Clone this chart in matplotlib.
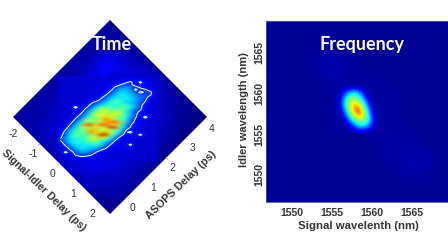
import numpy as np
import matplotlib
matplotlib.use("Agg")
import matplotlib.pyplot as plt
from matplotlib.transforms import Affine2D

plt.rcParams['font.family'] = ['Liberation Sans', 'DejaVu Sans']

asops_ticks = [0, 1, 2, 3, 4]
delay_ticks = [-2, -1, 0, 1, 2]
wave_ticks = [1550, 1555, 1560, 1565]
time_title = "Time"
freq_title = "Frequency"

# faint field of the time map, percent of the colour range, in delay axes
time_field = [
[6,7,6,7,6,7,7,6,7,8,7,6,7,8,7,6,7,7,6,7,8,7,7,6,7,7,6,7,8,7,7,6,7,6,7,6],
[7,6,7,8,7,6,7,9,6,7,7,9,7,6,7,9,7,6,7,7,6,9,7,6,9,7,7,9,7,7,6,7,6,7,7,6],
[6,7,9,7,6,9,7,6,7,9,7,6,9,7,7,6,9,7,7,9,7,6,7,9,7,6,9,7,7,9,7,6,8,7,6,7],
[7,9,6,7,9,7,6,9,7,6,9,7,7,9,6,7,9,8,7,6,9,7,9,7,7,9,9,8,9,7,8,7,7,6,7,6],
[6,7,9,6,7,9,7,7,9,7,7,10,8,7,10,8,7,9,10,8,7,10,8,10,8,10,11,9,11,9,8,7,8,7,6,7],
[7,9,7,9,8,7,10,8,7,10,8,8,10,11,8,10,11,8,10,11,9,8,11,9,11,12,10,13,11,10,9,8,7,8,7,6],
[8,7,9,7,10,8,8,10,11,8,10,11,9,8,11,12,9,11,12,9,11,12,10,13,11,13,14,12,14,11,10,9,8,7,7,6],
[7,9,7,10,8,10,11,8,10,11,9,12,10,12,10,9,12,11,10,13,11,13,14,12,14,15,16,14,14,12,11,9,8,8,7,7],
[8,7,10,8,10,11,9,11,12,9,12,10,12,13,11,12,11,12,13,12,13,14,13,15,14,15,16,15,14,13,12,10,9,8,7,7],
[7,10,8,10,11,9,12,10,12,11,11,12,11,12,11,12,11,12,11,12,12,13,12,13,13,14,14,14,13,13,11,11,9,8,8,7],
[8,8,10,11,9,12,10,12,11,12,11,12,11,11,11,11,11,11,11,11,11,11,11,11,11,11,12,12,12,12,12,10,10,8,8,7],
[7,9,8,10,9,11,10,12,11,11,11,11,11,11,11,11,11,11,11,11,11,11,11,11,11,11,11,11,12,12,11,10,9,8,8,7],
[7,8,10,9,11,10,12,11,11,11,11,11,11,11,11,11,11,11,11,11,11,11,11,11,11,11,11,11,11,12,12,10,9,8,8,7],
[8,9,9,11,10,12,11,11,11,11,11,11,11,11,11,11,11,11,11,11,11,11,11,11,11,11,11,11,11,11,12,11,9,9,8,7],
[8,9,10,11,11,11,11,11,11,11,11,11,11,11,11,11,11,11,11,11,11,11,11,11,11,11,11,11,11,11,11,11,10,8,8,7],
[8,8,10,11,11,11,11,11,11,11,11,11,11,11,11,11,11,11,11,11,11,11,11,11,11,11,11,11,11,11,11,11,10,9,8,7],
[9,9,11,11,11,11,11,11,11,11,11,11,11,11,11,11,11,11,11,11,11,11,11,11,11,11,11,11,11,11,11,11,10,9,8,8],
[9,10,11,11,11,11,11,11,11,11,11,11,11,11,11,11,11,11,11,11,11,11,11,11,11,11,11,11,11,11,11,11,10,9,8,8],
[9,10,11,11,11,11,11,11,11,11,11,11,11,11,11,11,11,11,11,11,11,11,11,11,11,11,11,11,11,11,11,11,11,9,9,8],
[10,9,12,11,11,11,11,11,11,11,11,11,11,11,11,11,11,11,11,11,11,11,11,11,11,11,11,11,11,11,11,11,11,9,9,8],
[9,10,11,12,11,11,11,11,11,11,11,11,11,11,11,11,11,11,11,11,11,11,11,11,11,11,11,11,11,11,11,11,10,9,8,8],
[9,10,11,13,11,12,11,11,11,11,11,11,11,11,11,11,11,11,11,11,11,11,11,11,11,11,11,11,11,11,11,11,10,9,8,8],
[9,9,10,12,13,12,11,12,11,11,11,11,11,11,11,11,11,11,11,11,11,11,11,11,11,11,11,11,11,11,12,10,9,9,8,7],
[8,9,11,11,12,13,12,13,12,11,11,11,11,11,11,11,11,11,11,11,11,11,11,11,11,11,11,11,12,12,11,10,9,8,8,7],
[8,8,9,12,11,12,13,12,13,12,13,12,11,11,11,11,11,11,11,11,11,11,11,11,11,11,12,13,12,11,10,9,9,8,7,7],
[8,9,11,9,12,10,13,12,13,13,14,14,13,12,11,11,11,11,11,11,11,11,11,11,12,13,12,11,11,10,9,9,8,7,7,6],
[8,10,8,11,9,12,10,13,11,13,13,12,13,14,14,13,13,12,12,13,14,13,12,13,12,11,11,10,10,9,9,8,8,7,7,6],
[7,8,10,8,11,9,12,10,12,11,13,11,12,14,12,13,14,12,13,12,12,11,12,11,10,11,10,9,9,9,8,8,7,7,6,6],
[8,7,9,10,8,11,9,11,10,12,10,13,11,11,13,11,12,12,11,10,12,10,10,12,10,9,10,9,8,8,8,7,7,6,7,6],
[7,9,7,9,10,8,10,9,11,9,12,10,10,12,10,12,10,12,10,10,9,11,9,9,10,9,8,8,9,7,7,7,6,7,6,6],
[7,7,9,7,9,10,8,10,8,11,9,11,9,11,9,11,9,9,11,9,9,8,10,8,8,9,8,7,7,7,6,7,6,6,6,6],
[6,7,7,9,7,9,9,8,10,8,10,8,10,9,8,10,9,8,8,10,8,8,9,8,7,9,7,7,8,6,7,6,6,6,6,5],
[6,6,7,7,9,7,9,7,9,9,8,9,8,7,9,8,7,9,8,7,9,7,7,8,7,7,8,6,6,7,6,6,6,5,6,5],
[6,6,6,7,8,7,8,7,7,9,7,8,7,8,7,8,7,7,8,7,7,8,7,6,7,6,6,7,6,6,5,6,5,5,5,5],
[5,6,6,7,6,7,6,8,7,7,6,8,7,6,8,6,6,8,6,6,7,6,6,7,6,6,5,6,5,5,5,5,5,5,5,5],
[5,5,6,5,6,6,7,6,6,7,6,6,7,6,6,7,6,6,7,6,5,6,5,6,5,5,5,5,5,5,5,5,5,5,4,4],
]
# bright part of the time map, percent of the colour range, rows of the picture
time_core = [
[10,10,10,10,11,11,11,11,11,11,11,11,11,11,11,11,11,11,11,10],
[10,10,11,11,11,11,11,11,11,12,12,12,13,14,15,14,13,13,12,11],
[10,11,11,11,11,11,11,11,12,12,12,12,14,18,22,15,22,14,12,11],
[10,11,11,11,11,11,11,12,12,12,13,14,20,24,22,16,17,14,12,11],
[10,11,11,11,11,11,11,12,12,13,14,22,28,30,27,23,18,15,13,11],
[10,11,11,11,11,11,11,12,12,14,18,24,33,34,30,18,24,21,15,12],
[10,11,11,11,11,11,12,12,13,14,22,30,36,36,32,26,17,22,22,12],
[10,11,11,11,11,11,12,12,14,19,26,34,40,38,34,30,26,24,21,12],
[10,11,11,11,11,12,12,13,17,24,33,38,36,40,36,31,27,23,15,11],
[10,11,11,11,11,12,13,14,21,28,36,44,44,38,38,32,27,21,13,11],
[10,11,11,11,12,13,17,22,26,36,45,46,44,36,34,30,25,19,12,11],
[10,11,11,11,12,14,21,26,34,38,40,40,42,44,38,32,23,15,12,11],
[10,11,11,24,13,18,24,36,48,52,48,42,50,50,42,33,22,13,12,11],
[10,11,11,13,14,22,32,44,58,60,50,50,48,46,36,26,21,13,12,11],
[10,11,11,13,17,26,38,52,56,60,52,62,58,44,32,24,16,13,11,11],
[10,11,12,14,21,30,44,62,64,62,56,64,56,42,36,22,14,13,11,11],
[10,11,12,18,25,36,46,52,54,70,68,52,50,46,32,21,14,24,11,11],
[10,11,13,22,30,55,60,48,62,80,70,55,48,40,26,19,13,12,11,11],
[10,12,17,27,38,50,54,48,58,70,82,85,72,42,26,17,13,12,11,11],
[10,13,21,32,46,82,88,68,82,85,62,66,48,32,21,14,13,12,11,11],
[11,16,25,36,50,60,54,58,62,58,92,88,50,36,20,14,13,12,11,11],
[12,20,32,42,48,50,72,74,52,64,62,52,44,22,14,13,12,11,11,11],
[13,24,36,44,46,54,78,70,66,72,56,48,38,18,23,13,12,11,11,11],
[16,26,38,48,50,44,48,52,90,96,58,44,26,15,13,14,23,11,11,11],
[18,28,40,44,40,46,56,58,70,64,44,30,17,14,13,12,11,11,11,11],
[21,30,36,38,42,44,60,62,50,44,36,21,14,13,12,12,11,11,11,11],
[17,26,38,42,40,40,46,44,42,34,27,15,14,13,12,11,11,11,11,11],
[13,22,32,38,36,40,38,48,38,28,20,14,13,13,23,11,11,11,11,11],
[12,17,26,34,40,36,36,34,30,24,14,13,13,12,12,11,11,11,11,10],
[11,13,21,30,34,36,32,30,22,16,13,13,12,12,11,11,11,11,11,10],
[11,23,15,24,30,30,26,21,14,13,13,12,12,11,11,11,11,11,10,10],
[11,12,13,21,26,25,22,16,13,13,12,12,11,11,11,11,11,10,10,10],
[11,11,12,14,18,17,15,13,13,12,12,11,11,11,11,11,10,10,10,10],
[10,11,11,12,12,12,12,12,12,11,11,11,11,11,11,10,10,10,10,10],
]
time_level = 20

# frequency map: faint field over the whole window, then the bright peak
freq_field = [
[2,2,2,2,2,2,2,2,2,2,2,2,2,2,2,2],
[2,2,2,2,2,2,2,2,2,2,2,2,2,2,2,2],
[2,2,2,2,3,3,3,2,2,2,2,2,2,2,2,2],
[2,2,2,2,3,5,4,3,2,2,2,2,2,2,2,2],
[2,2,2,2,3,4,4,3,3,2,2,2,2,2,2,2],
[2,2,2,2,2,3,3,3,3,3,3,2,2,2,2,2],
[2,2,2,2,2,2,3,3,3,3,3,3,2,2,2,2],
[2,2,2,2,2,2,2,3,3,3,3,3,2,2,2,2],
[2,2,2,2,2,2,2,3,3,3,3,3,2,2,2,2],
[2,2,2,2,2,2,2,2,3,3,3,3,3,2,2,2],
[2,2,2,2,2,2,2,2,2,3,3,4,3,3,2,2],
[2,2,2,2,2,2,2,2,2,2,3,3,4,4,3,2],
[2,2,2,2,2,2,2,2,2,2,3,3,4,5,3,2],
[2,2,2,2,2,2,2,2,2,2,2,3,3,3,3,2],
[2,2,2,2,2,2,2,2,2,2,2,2,2,3,2,2],
[2,2,2,2,2,2,2,2,2,2,2,2,2,2,2,2],
]
freq_peak = [
[3,3,3,3,3,3,3,3,3,3,3,3,3,3],
[3,3,3,6,11,16,19,16,10,5,3,3,3,3],
[3,3,6,14,25,33,36,32,22,11,4,3,3,3],
[3,3,9,22,36,44,46,42,33,19,8,3,3,3],
[3,4,12,30,42,52,58,52,42,30,13,5,3,3],
[3,4,12,32,44,58,67,64,52,38,20,8,3,3],
[3,3,10,28,42,60,74,78,63,46,28,11,4,3],
[3,3,7,22,38,54,72,82,72,54,36,16,5,3],
[3,3,4,14,32,46,62,74,72,56,40,20,6,3],
[3,3,3,8,22,36,50,60,62,56,42,24,8,3],
[3,3,3,4,13,26,36,44,48,46,38,24,8,3],
[3,3,3,3,7,14,24,33,38,36,30,18,6,3],
[3,3,3,3,3,6,11,18,22,21,15,9,4,3],
[3,3,3,3,3,3,3,4,5,5,4,3,3,3],
]

W, H = 448, 252
fig = plt.figure(figsize=(W / 100, H / 100), dpi=100, facecolor='white')
base = fig.add_axes([0, 0, 1, 1])
base.axis('off')

# rotated map: (ASOPS delay, signal-idler delay) to picture pixels
u0, du = 0.175, 0.203
v0, dv = 0.521, 0.204
ex, ey, bx, by = 97.0, 97.0, 110.0, 214.0
m = np.array([
    [ex * du, ex * dv, bx + ex * (u0 - v0)],
    [-ey * du, ey * dv, by - ey * (u0 + v0)],
    [0, 0, 1]])
tr = Affine2D(m)
T = tr + base.transData
umin, umax = -u0 / du, (1 - u0) / du
vmin, vmax = (v0 - 1) / dv, v0 / dv

base.imshow(np.array(time_field) / 100.0, cmap='jet', vmin=0.04, vmax=1, origin='upper',
            interpolation='bicubic', extent=(umin, umax, vmax, vmin), transform=T,
            aspect='auto', zorder=1)

core = np.array(time_core) / 100.0
cx0, cx1, cy0, cy1 = 58, 158, 76, 161
base.imshow(core, cmap='jet', vmin=0.04, vmax=1, origin='upper', interpolation='bicubic',
            extent=(cx0, cx1, cy1, cy0), aspect='auto', zorder=1.5)
nr, nc = core.shape
xx = cx0 + (np.arange(nc) + 0.5) * (cx1 - cx0) / nc
yy = cy0 + (np.arange(nr) + 0.5) * (cy1 - cy0) / nr
base.contour(xx, yy, core, levels=[time_level / 100.0], colors='white', linewidths=0.7, zorder=2)
base.set_xlim(0, W)
base.set_ylim(H, 0)

tick_col = '#333333'
for a in asops_ticks:
    p = tr.transform((a, vmax))
    base.plot([p[0], p[0] + 1.5], [p[1], p[1] + 1.5], color='#bbbbbb', lw=0.6, zorder=3)
    base.text(p[0] + 6, p[1] + 10.5, str(a), fontsize=7.5, color=tick_col, ha='center', va='center')
for d in delay_ticks:
    p = tr.transform((umin, d))
    base.plot([p[0], p[0] - 1.5], [p[1], p[1] + 1.5], color='#bbbbbb', lw=0.6, zorder=3)
    base.text(p[0] - 6.5, p[1] + 10.5, str(d), fontsize=7.5, color=tick_col, ha='center', va='center')
base.text(181, 185, "ASOPS Delay (ps)", rotation=44, rotation_mode='anchor', fontsize=7.8, fontweight='bold',
          color=tick_col, ha='center', va='center')
base.text(44, 190, "Signal-Idler Delay (ps)", rotation=-44, rotation_mode='anchor', fontsize=7.7, fontweight='bold',
          color=tick_col, ha='center', va='center')
base.text(112, 44.5, time_title, family='Lato', fontweight='bold', fontsize=13, color='white',
          ha='center', va='center', zorder=5)

# frequency panel
x0, x1, y0, y1 = 266, 448, 21, 202
ax = fig.add_axes([x0 / W, 1 - y1 / H, (x1 - x0) / W, (y1 - y0) / H], zorder=3)
xlim = (1546.7, 1569.6)
ylim = (1546.7, 1568.8)
ax.imshow(np.array(freq_field) / 100.0, cmap='jet', vmin=0, vmax=1, origin='upper',
          interpolation='bicubic', extent=(*xlim, *ylim), aspect='auto')
ax.imshow(np.array(freq_peak) / 100.0, cmap='jet', vmin=0, vmax=1, origin='upper',
          interpolation='bicubic', extent=(1555, 1561, 1555, 1561), aspect='auto')
ax.set_xlim(*xlim)
ax.set_ylim(*ylim)
ax.set_xticks(wave_ticks)
ax.set_yticks(wave_ticks)
ax.tick_params(length=0, labelsize=7.5, labelcolor=tick_col)
ax.tick_params(axis='x', pad=4)
ax.tick_params(axis='y', pad=1.5)
for t in ax.get_xticklabels() + ax.get_yticklabels():
    t.set_fontweight('bold')
for t in ax.get_yticklabels():
    t.set_rotation(90)
    t.set_va('center')
for s in ax.spines.values():
    s.set_color('#4a5aa0')
    s.set_linewidth(0.6)
base.text(358, 226, "Signal wavelenth (nm)", fontsize=8.2, fontweight='bold', color=tick_col, ha='center', va='center')
base.text(244, 110, "Idler wavelength (nm)", rotation=90, fontsize=8, fontweight='bold', color=tick_col, ha='center', va='center')
ax.text(362, 44.5, freq_title, family='Lato', fontweight='bold', fontsize=13, color='white',
        ha='center', va='center', transform=base.transData, zorder=5)

fig.savefig('out.png', dpi=100)
